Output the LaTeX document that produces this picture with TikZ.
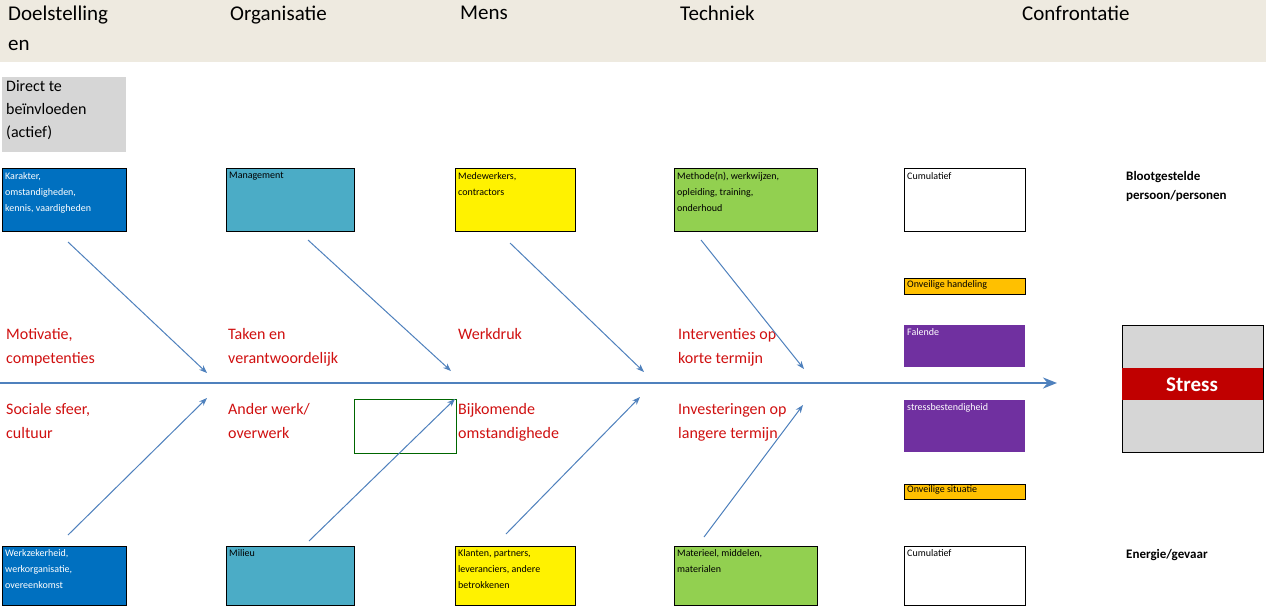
\documentclass[tikz,border=0pt]{standalone}
\usepackage{fontspec}
\setmainfont{Carlito}
\usetikzlibrary{arrows.meta}
\definecolor{band}{HTML}{EEEAE0}
\definecolor{dblue}{HTML}{0070C0}
\definecolor{teal}{HTML}{4BACC6}
\definecolor{lgreen}{HTML}{92D050}
\definecolor{orng}{HTML}{FFC000}
\definecolor{purp}{HTML}{7030A0}
\definecolor{arr}{HTML}{4F81BD}
\definecolor{rtext}{HTML}{D01010}
\definecolor{stressred}{HTML}{C00000}
\begin{document}
\begin{tikzpicture}[x=1pt,y=-1pt,
 box/.style={draw=black,line width=0.6pt,anchor=north west,inner sep=0pt},
 sm/.style={anchor=north west,font=\fontsize{10}{16}\selectfont,align=left,inner sep=0pt},
 hd/.style={anchor=north west,font=\fontsize{21}{30}\selectfont,inner sep=0pt},
 rt/.style={anchor=north west,font=\fontsize{16}{24}\selectfont,text=rtext,align=left,inner sep=0pt},
 ar/.style={draw=arr,line width=1pt,-{Stealth[length=8pt,width=6pt]}}]
\useasboundingbox (0,0) rectangle (1270,606);
\fill[white] (0,0) rectangle (1270,606);
\fill[band] (0,0) rectangle (1266,62);
\node[hd,align=left] (h1) at (8,6) {Doelstelling\\en};
\node[hd] (h2) at (230,6) {Organisatie};
\node[hd] (h3) at (460,6) {Mens};
\node[hd] (h4) at (680,6) {Techniek};
\node[hd] (h5) at (1022,6) {Confrontatie};
\fill[black!16] (2,77) rectangle (126,152);
\node[anchor=north west,font=\fontsize{16}{23}\selectfont,align=left,inner sep=0pt] (g) at (6,80) {Direct te\\beïnvloeden\\(actief)};
% top boxes
\fill[dblue,draw=black] (2,168) rectangle (126,231);
\node[sm,text=white] (t1) at (5,172) {Karakter,\\omstandigheden,\\kennis, vaardigheden};
\fill[teal,draw=black] (226,168) rectangle (354,231);
\node[sm] (t2) at (229,172) {Management};
\fill[yellow,draw=black] (455,168) rectangle (575,231);
\node[sm] (t3) at (458,172) {Medewerkers,\\contractors};
\fill[lgreen,draw=black] (674,168) rectangle (817,231);
\node[sm] (t4) at (677,172) {Methode(n), werkwijzen,\\opleiding, training,\\onderhoud};
\draw[black] (904,168) rectangle (1025,231);
\node[sm] (t5) at (907,172) {Cumulatief};
% bottom boxes
\fill[dblue,draw=black] (2,546) rectangle (126,605);
\node[sm,text=white] (b1) at (5,549) {Werkzekerheid,\\werkorganisatie,\\overeenkomst};
\fill[teal,draw=black] (226,546) rectangle (354,605);
\node[sm] (b2) at (229,549) {Milieu};
\fill[yellow,draw=black] (455,546) rectangle (575,605);
\node[sm] (b3) at (458,549) {Klanten, partners,\\leveranciers, andere\\betrokkenen};
\fill[lgreen,draw=black] (674,546) rectangle (817,605);
\node[sm] (b4) at (677,549) {Materieel, middelen,\\materialen};
\draw[black] (904,546) rectangle (1025,605);
\node[sm] (b5) at (907,549) {Cumulatief};
% confrontation column
\fill[orng,draw=black] (904,278) rectangle (1025,294);
\node[sm] (o1) at (907,280) {Onveilige handeling};
\fill[purp] (904,325) rectangle (1025,367);
\node[sm,text=white] (p1) at (907,328) {Falende};
\fill[purp] (904,400) rectangle (1025,452);
\node[sm,text=white] (p2) at (907,403) {stressbestendigheid};
\fill[orng,draw=black] (904,484) rectangle (1025,499);
\node[sm] (o2) at (907,485) {Onveilige situatie};
% stress
\fill[black!16,draw=black] (1122,325) rectangle (1263,452);
\fill[stressred] (1122,368) rectangle (1263,400);
\node[text=white,font=\fontsize{21}{24}\selectfont\bfseries] (st) at (1192,385) {Stress};
\node[anchor=north west,font=\fontsize{13}{19}\selectfont\bfseries,align=left,inner sep=0pt] (bl) at (1126,171) {Blootgestelde\\persoon/personen};
\node[anchor=north west,font=\fontsize{13}{19}\selectfont\bfseries,inner sep=0pt] (en) at (1126,549) {Energie/gevaar};
% red texts
\node[rt] at (6,328) {Motivatie,\\competenties};
\node[rt] at (6,403) {Sociale sfeer,\\cultuur};
\node[rt] at (228,328) {Taken en\\verantwoordelijk};
\node[rt] at (228,403) {Ander werk/\\overwerk};
\node[rt] at (458,328) {Werkdruk};
\node[rt] at (458,403) {Bijkomende\\omstandighede};
\node[rt] at (678,328) {Interventies op\\korte termijn};
\node[rt] at (678,403) {Investeringen op\\langere termijn};
\draw[draw=black!60!green,line width=0.5pt] (354,399) rectangle (456,453);
% arrows
\coordinate (ms) at (0,383); \coordinate (me) at (1057,383);
\draw[draw=arr,line width=2pt,-{Stealth[length=14pt,width=11pt]}] (ms) -- (me);
\foreach \a/\b/\c/\d in {68/242/207/373,308/240/451/371,510/243/644/372,701/240/804/369,
 68/535/207/398,309/541/455/399,506/534/640/397,704/537/803/405}{
 \coordinate (s) at (\a,\b); \coordinate (e) at (\c,\d);
 \draw[ar] (s) -- (e);}
\end{tikzpicture}
\end{document}
